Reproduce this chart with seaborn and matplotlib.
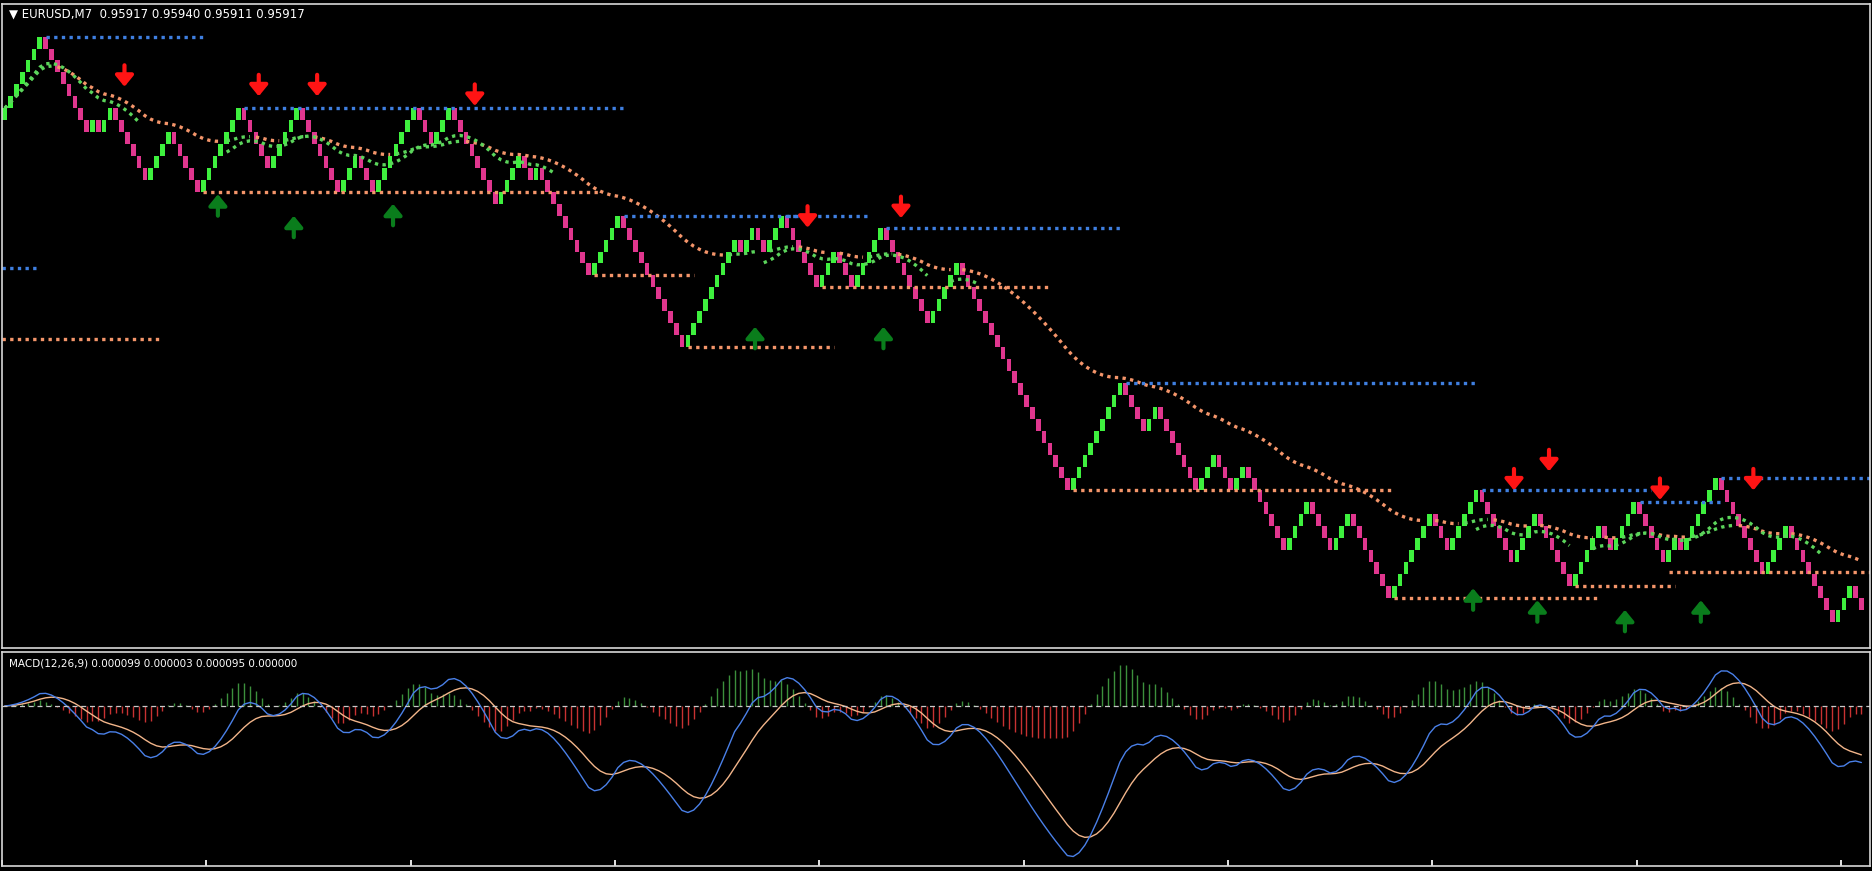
import numpy as np
import pandas as pd
import matplotlib
matplotlib.use("Agg")
import matplotlib.pyplot as plt
import seaborn as sns

# Renko swing pivots, in brick levels
pivots = [0, 7, -1, 0, -1, 1, -5, -1, -6, -6, -6, 1, -4, 1, -6, -6, -6, -3, -6, 1,
          -2, -2, -2, 1, -7, -3, -5, -4, -13, -8, -13, -13, -13, -19, -10, -11, -9, -11,
          -8, -14, -11, -14, -9, -17, -12, -31, -22, -26, -24, -31, -28, -31, -29, -31,
          -36, -32, -36, -33, -40, -33, -36, -31, -37, -33, -39, -34, -36, -33, -32, -37,
          -35, -36, -30, -38, -34, -42, -39, -41]

# resistance / support lines: (pivot index, length in bricks, level) ; pivot -1 = chart start
resist_lines = [(1, 27, 7), (11, 65, 1), (-1, 6, -12.4), (29, 32, -8), (38, 14, -8),
                (42, 40, -9), (46, 60, -22), (61, 29, -31), (68, 14, -32), (72, 35, -30)]
support_lines = [(-1, 27, -18.3), (10, 68, -6), (28, 17, -13), (33, 25, -19), (39, 39, -14),
                 (45, 55, -31), (58, 35, -40), (64, 17, -39), (69, 40, -37.8)]

# signal arrows: (pivot index, brick offset, level)
sell_arrows = [(5, 2, 3.8), (11, 3, 3.0), (13, 3, 3.0), (23, 4, 2.2), (38, 4, -8.0),
               (42, 3, -7.2), (61, 6, -30.0), (63, 2, -28.4), (68, 4, -30.8), (72, 6, -30.0)]
buy_arrows = [(10, 3, -7.2), (12, 4, -9.0), (18, 3, -8.0), (33, 12, -18.3), (41, 5, -18.3),
              (58, 14, -40.2), (64, -6, -41.2), (68, -2, -42.0), (72, -3, -41.2)]

title_text = "\u25bc EURUSD,M7  0.95917 0.95940 0.95911 0.95917"
macd_text = "MACD(12,26,9) 0.000099 0.000003 0.000095 0.000000"

UP, DOWN = "#3ef03e", "#e0368e"
BLUE, ORANGE = "#3f7fe0", "#f4956a"

# build bricks from pivots
levels = [pivots[0]]
pivot_pos = [0]
for p in pivots[1:]:
    step = 1 if p > levels[-1] else -1
    while levels[-1] != p:
        levels.append(levels[-1] + step)
    pivot_pos.append(len(levels) - 1)
levels = np.array(levels, dtype=float)
n = len(levels) - 1
df = pd.DataFrame({"x": np.arange(n) + 0.5, "bottom": levels[:-1], "top": levels[1:]})
df["close"] = df["top"]

def pos(i):
    return 0 if i < 0 else pivot_pos[i]

sns.set_theme(style="dark", rc={"axes.facecolor": "black", "figure.facecolor": "black"})
plt.rcParams["font.family"] = ["DejaVu Sans"]

fig = plt.figure(figsize=(18.72, 8.71), dpi=100)
ax = fig.add_axes([0.001, 0.256, 0.998, 0.739])
ax2 = fig.add_axes([0.001, 0.006, 0.998, 0.245])

# moving averages of closes
slow = df["close"].ewm(span=40).mean()
fast = df["close"].ewm(span=18).mean()
dot = dict(linestyle=(0, (1, 1.3)), lw=2.4)
rising = slow.diff().fillna(1) > 0
ax.plot(df["x"], slow.where(~rising), color=ORANGE, **dot)
ax.plot(df["x"], slow.where(rising), color="#5bd45b", **dot)
ax.plot(df["x"], fast.where((fast - slow).abs() < 1.0), color="#5bd45b", **dot)

# bricks
colors = np.where(df["top"] > df["bottom"], UP, DOWN)
ax.bar(df["x"], df["top"] - df["bottom"], bottom=df["bottom"], width=0.8, color=colors, linewidth=0)

for lines, c in ((resist_lines, BLUE), (support_lines, ORANGE)):
    for pi, ln, lv in lines:
        x0 = pos(pi) + (0.5 if pi >= 0 else 0)
        ax.plot([x0, x0 + ln], [lv, lv], color=c, **dot)

arrow = dict(arrowstyle="-|>,head_width=0.45,head_length=0.55", lw=3, shrinkA=0, shrinkB=0)
for pi, dx, lv in sell_arrows:
    x = pos(pi) + dx
    ax.annotate("", xy=(x, lv - 1.0), xytext=(x, lv + 0.8),
                arrowprops=dict(color="#ff1414", **arrow))
for pi, dx, lv in buy_arrows:
    x = pos(pi) + dx
    ax.annotate("", xy=(x, lv + 1.0), xytext=(x, lv - 0.8),
                arrowprops=dict(color="#0a7d1c", **arrow))

ax.set_xlim(0, n + 1)
ax.set_ylim(-44.2, 9.7)
ax.text(0.004, 0.995, title_text, transform=ax.transAxes, color="white", fontsize=8.5, va="top")

# MACD from brick closes
e12 = df["close"].ewm(span=12).mean()
e26 = df["close"].ewm(span=26).mean()
macd = e12 - e26
signal = macd.ewm(span=9).mean()
hist = macd - signal
ax2.vlines(df["x"], 0, hist, colors=np.where(hist > 0, "#3c8f3c", "#c83232"), lw=1)
sns.lineplot(x=df["x"], y=signal, ax=ax2, color="#f2b58a", lw=1)
sns.lineplot(x=df["x"], y=macd, ax=ax2, color="#4a80e8", lw=1)
ax2.axhline(0, color="#c8c8c8", lw=0.9, ls=(0, (4, 3)))
hi, lo = macd.max(), macd.min()
ax2.set_ylim(lo - 0.05 * (hi - lo), hi + 0.1 * (hi - lo))
ax2.set_xlim(0, n + 1)
ax2.text(0.004, 0.97, macd_text, transform=ax2.transAxes, color="white", fontsize=7.5, va="top")

for a in (ax, ax2):
    a.set_xlabel("")
    a.set_ylabel("")
    a.grid(False)
    for s in a.spines.values():
        s.set_color("#d8d8d8")
        s.set_linewidth(1.2)
    a.set_yticks([])
ax.set_xticks([])
ax2.set_xticks(np.arange(0, n, 35))
ax2.tick_params(axis="x", direction="in", length=4, color="white", labelbottom=False, bottom=True)

fig.savefig("out.png", dpi=100, facecolor="black")
